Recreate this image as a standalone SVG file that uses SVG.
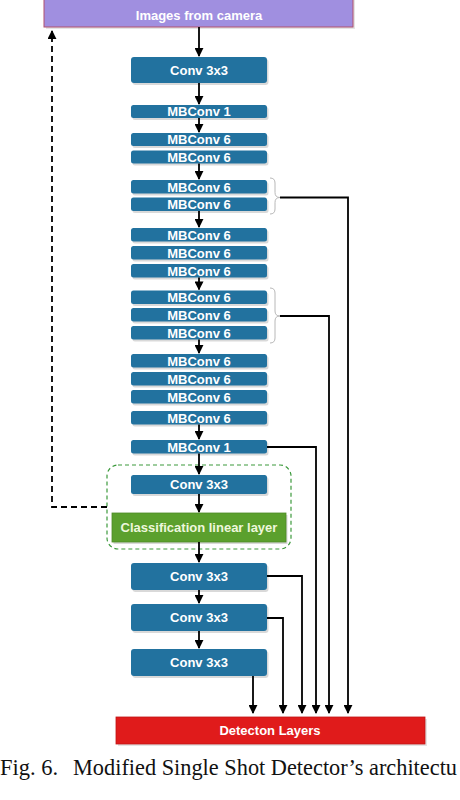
<svg xmlns="http://www.w3.org/2000/svg" width="460" height="800" viewBox="0 0 460 800">
<style>
.blue{fill:#22729f;}
.sh{fill:#b9b9b9;opacity:.55;}
.lbl{font-family:"Liberation Sans",Arial,sans-serif;font-weight:bold;font-size:13px;fill:#ffffff;text-anchor:middle;}
.conn{fill:none;stroke:#000;stroke-width:1.8;}
.brace{fill:none;stroke:#b8b8b8;stroke-width:1;}
.cap{font-family:"Liberation Serif","Times New Roman",serif;font-size:22.5px;fill:#111;}
</style>
<defs>
<marker id="ah" viewBox="0 0 10 10" refX="9" refY="5" markerWidth="5" markerHeight="5" orient="auto" markerUnits="strokeWidth">
<path d="M0,0 L10,5 L0,10 z" fill="#000"/>
</marker>
</defs>
<rect width="460" height="800" fill="#fff"/>

<g id="camera">
<rect x="46" y="0" width="309" height="29" fill="#c9c9c9" opacity=".5"/>
<rect x="44" y="-2" width="309" height="29" fill="#a08fe0" stroke="#b2506e" stroke-width="1"/>
<text class="lbl" x="199" y="19.5">Images from camera</text>
</g>

<g id="conv1">
<rect class="sh" x="132.5" y="59" width="136" height="26" rx="3"/>
<rect class="blue" x="131" y="57" width="136" height="26" rx="3"/>
<text class="lbl" x="199" y="74.5">Conv 3x3</text>
</g>

<g id="mb1a">
<rect class="sh" x="132.5" y="107" width="136" height="13" rx="2.5"/>
<rect class="blue" x="131" y="105" width="136" height="13" rx="2.5"/>
<text class="lbl" x="199" y="116">MBConv 1</text>
</g>
<g id="mb2">
<rect class="sh" x="132.5" y="135" width="136" height="13" rx="2.5"/>
<rect class="blue" x="131" y="133" width="136" height="13" rx="2.5"/>
<text class="lbl" x="199" y="144">MBConv 6</text>
</g>
<g id="mb3">
<rect class="sh" x="132.5" y="152.5" width="136" height="13" rx="2.5"/>
<rect class="blue" x="131" y="150.5" width="136" height="13" rx="2.5"/>
<text class="lbl" x="199" y="161.5">MBConv 6</text>
</g>
<g id="mb4">
<rect class="sh" x="132.5" y="182" width="136" height="13.5" rx="2.5"/>
<rect class="blue" x="131" y="180" width="136" height="13.5" rx="2.5"/>
<text class="lbl" x="199" y="191.5">MBConv 6</text>
</g>
<g id="mb5">
<rect class="sh" x="132.5" y="199.5" width="136" height="13.5" rx="2.5"/>
<rect class="blue" x="131" y="197.5" width="136" height="13.5" rx="2.5"/>
<text class="lbl" x="199" y="209">MBConv 6</text>
</g>
<g id="mb6">
<rect class="sh" x="132.5" y="230" width="136" height="13.5" rx="2.5"/>
<rect class="blue" x="131" y="228" width="136" height="13.5" rx="2.5"/>
<text class="lbl" x="199" y="239.5">MBConv 6</text>
</g>
<g id="mb7">
<rect class="sh" x="132.5" y="248" width="136" height="13.5" rx="2.5"/>
<rect class="blue" x="131" y="246" width="136" height="13.5" rx="2.5"/>
<text class="lbl" x="199" y="257.5">MBConv 6</text>
</g>
<g id="mb8">
<rect class="sh" x="132.5" y="266" width="136" height="13.5" rx="2.5"/>
<rect class="blue" x="131" y="264" width="136" height="13.5" rx="2.5"/>
<text class="lbl" x="199" y="275.5">MBConv 6</text>
</g>
<g id="mb9">
<rect class="sh" x="132.5" y="292.5" width="136" height="13.5" rx="2.5"/>
<rect class="blue" x="131" y="290.5" width="136" height="13.5" rx="2.5"/>
<text class="lbl" x="199" y="302">MBConv 6</text>
</g>
<g id="mb10">
<rect class="sh" x="132.5" y="310" width="136" height="13.5" rx="2.5"/>
<rect class="blue" x="131" y="308" width="136" height="13.5" rx="2.5"/>
<text class="lbl" x="199" y="319.5">MBConv 6</text>
</g>
<g id="mb11">
<rect class="sh" x="132.5" y="328" width="136" height="13.5" rx="2.5"/>
<rect class="blue" x="131" y="326" width="136" height="13.5" rx="2.5"/>
<text class="lbl" x="199" y="337.5">MBConv 6</text>
</g>
<g id="mb12">
<rect class="sh" x="132.5" y="356" width="136" height="13.5" rx="2.5"/>
<rect class="blue" x="131" y="354" width="136" height="13.5" rx="2.5"/>
<text class="lbl" x="199" y="365.5">MBConv 6</text>
</g>
<g id="mb13">
<rect class="sh" x="132.5" y="374" width="136" height="13.5" rx="2.5"/>
<rect class="blue" x="131" y="372" width="136" height="13.5" rx="2.5"/>
<text class="lbl" x="199" y="383.5">MBConv 6</text>
</g>
<g id="mb14">
<rect class="sh" x="132.5" y="392" width="136" height="13.5" rx="2.5"/>
<rect class="blue" x="131" y="390" width="136" height="13.5" rx="2.5"/>
<text class="lbl" x="199" y="401.5">MBConv 6</text>
</g>
<g id="mb15">
<rect class="sh" x="132.5" y="413" width="136" height="13.5" rx="2.5"/>
<rect class="blue" x="131" y="411" width="136" height="13.5" rx="2.5"/>
<text class="lbl" x="199" y="422.5">MBConv 6</text>
</g>
<g id="mb16">
<rect class="sh" x="132.5" y="442" width="136" height="13.5" rx="2.5"/>
<rect class="blue" x="131" y="440" width="136" height="13.5" rx="2.5"/>
<text class="lbl" x="199" y="451.5">MBConv 1</text>
</g>

<g id="classifier-group">
<rect x="107" y="465" width="184" height="84" rx="11" fill="none" stroke="#3d9a3d" stroke-width="1.2" stroke-dasharray="4,3"/>
</g>
<g id="conv2">
<rect class="sh" x="132.5" y="477" width="136" height="19" rx="2.5"/>
<rect class="blue" x="131" y="475" width="136" height="19" rx="2.5"/>
<text class="lbl" x="199" y="489">Conv 3x3</text>
</g>
<g id="classify">
<rect class="sh" x="113.5" y="515" width="174" height="29"/>
<rect x="112" y="513" width="174" height="29" fill="#5ba02d" stroke="#4e8a26" stroke-width="0.8"/>
<text class="lbl" x="199" y="532" style="fill:#eef7dc">Classification linear layer</text>
</g>
<g id="conv3">
<rect class="sh" x="132.5" y="565" width="136" height="27" rx="3"/>
<rect class="blue" x="131" y="563" width="136" height="27" rx="3"/>
<text class="lbl" x="199" y="581">Conv 3x3</text>
</g>
<g id="conv4">
<rect class="sh" x="132.5" y="606" width="136" height="27" rx="3"/>
<rect class="blue" x="131" y="604" width="136" height="27" rx="3"/>
<text class="lbl" x="199" y="622">Conv 3x3</text>
</g>
<g id="conv5">
<rect class="sh" x="132.5" y="651" width="136" height="27" rx="3"/>
<rect class="blue" x="131" y="649" width="136" height="27" rx="3"/>
<text class="lbl" x="199" y="667">Conv 3x3</text>
</g>

<g id="detection">
<rect x="118" y="719" width="309" height="27" fill="#c9c9c9" opacity=".5"/>
<rect x="116" y="717" width="309" height="27" fill="#e01b1b" stroke="#c01515" stroke-width="0.8"/>
<text class="lbl" x="270" y="735">Detecton Layers</text>
</g>

<g id="braces">
<path class="brace" d="M270,178 Q275,178 275,183 L275,192.5 Q275,197.5 280,197.5 Q275,197.5 275,202.5 L275,209 Q275,214 270,214"/>
<path class="brace" d="M270,288 Q275,288 275,293 L275,311 Q275,316 280,316 Q275,316 275,321 L275,338 Q275,343 270,343"/>
</g>

<g id="connectors">
<line class="conn" x1="199" y1="27" x2="199" y2="56" marker-end="url(#ah)"/>
<line class="conn" x1="199" y1="83" x2="199" y2="104" marker-end="url(#ah)"/>
<line class="conn" x1="199" y1="118" x2="199" y2="132" marker-end="url(#ah)"/>
<line class="conn" x1="199" y1="163.5" x2="199" y2="179" marker-end="url(#ah)"/>
<line class="conn" x1="199" y1="211" x2="199" y2="227" marker-end="url(#ah)"/>
<line class="conn" x1="199" y1="277.5" x2="199" y2="289.5" marker-end="url(#ah)"/>
<line class="conn" x1="199" y1="339.5" x2="199" y2="353" marker-end="url(#ah)"/>
<line class="conn" x1="199" y1="424.5" x2="199" y2="439" marker-end="url(#ah)"/>
<line class="conn" x1="199" y1="453.5" x2="199" y2="474" marker-end="url(#ah)"/>
<line class="conn" x1="199" y1="494" x2="199" y2="512" marker-end="url(#ah)"/>
<line class="conn" x1="199" y1="542" x2="199" y2="562" marker-end="url(#ah)"/>
<line class="conn" x1="199" y1="590" x2="199" y2="603" marker-end="url(#ah)"/>
<line class="conn" x1="199" y1="631" x2="199" y2="648" marker-end="url(#ah)"/>

<polyline class="conn" points="280,197.5 348,197.5 348,713" marker-end="url(#ah)"/>
<polyline class="conn" points="280,316 329,316 329,713" marker-end="url(#ah)"/>
<polyline class="conn" points="267,447 316,447 316,713" marker-end="url(#ah)"/>
<polyline class="conn" points="267,576 302,576 302,713" marker-end="url(#ah)"/>
<polyline class="conn" points="267,618 283,618 283,713" marker-end="url(#ah)"/>
<polyline class="conn" points="253,676 253,713" marker-end="url(#ah)"/>

<polyline class="conn" points="107,507 52,507 52,31" stroke-dasharray="6,4" marker-end="url(#ah)"/>
</g>

<g id="caption">
<text class="cap" x="0" y="775">Fig. 6.</text>
<text class="cap" x="73" y="775" textLength="384" lengthAdjust="spacingAndGlyphs">Modified Single Shot Detector’s architectu</text>
</g>
</svg>
